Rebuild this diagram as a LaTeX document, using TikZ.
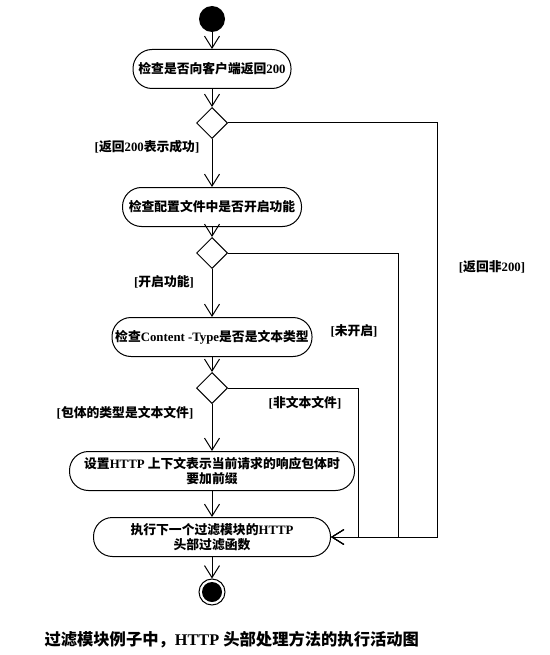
\documentclass[tikz,border=0pt]{standalone}
\usepackage{fontspec}
\setmainfont{Liberation Serif}
\newfontfamily\cjk{Noto Sans CJK SC}
\usetikzlibrary{shapes.geometric,arrows.meta}
\newcommand{\zh}[1]{{\cjk #1}}

\begin{document}
\begin{tikzpicture}[x=1pt,y=-1pt,
  action/.style={draw,line width=1pt,rounded corners=19pt,minimum height=39pt,align=center,inner xsep=0pt,font=\bfseries\fontsize{12.8}{15.5}\selectfont},
  choice/.style={draw,line width=1pt,diamond,minimum width=31pt,minimum height=31pt,inner sep=0pt},
  flow/.style={line width=1pt,-{Straight Barb[length=12pt,width=15pt]}},
  guard/.style={font=\bfseries\fontsize{12.8}{15}\selectfont}]

\useasboundingbox (0,0) rectangle (549,655);

\node[circle,fill,minimum size=26pt,inner sep=0pt] (start) at (212,19) {};
\node[action,minimum width=158pt] (b1) at (212,69) {\zh{检查是否向客户端返回}200};
\node[choice] (d1) at (212,123) {};
\node[action,minimum width=179pt] (b2) at (212,207) {\zh{检查配置文件中是否开启功能}};
\node[choice] (d2) at (212,253) {};
\node[action,minimum width=200pt] (b3) at (212,337) {\zh{检查}Content -Type\zh{是否是文本类型}};
\node[choice] (d3) at (212,388) {};
\node[action,minimum width=285pt] (b4) at (212,471) {\zh{设置}HTTP \zh{上下文表示当前请求的响应包体时}\\\zh{要加前缀}};
\node[action,minimum width=237pt] (b5) at (212,537) {\zh{执行下一个过滤模块的}HTTP\\\zh{头部过滤函数}};
\node[circle,draw,line width=1pt,minimum size=26pt,inner sep=0pt] (stop) at (212,592) {};
\fill (stop.center) circle (10pt);

\coordinate (j1) at (437,537);
\coordinate (j2) at (398,537);
\coordinate (j3) at (358,537);

\draw[flow] (start) -- (b1);
\draw[flow] (b1) -- (d1);
\draw[flow] (d1) -- (b2);
\draw[flow] (b2) -- (d2);
\draw[flow] (d2) -- (b3);
\draw[flow] (b3) -- (d3);
\draw[flow] (d3) -- (b4);
\draw[flow] (b4) -- (b5);
\draw[flow] (b5) -- (stop);
\draw[flow] (d1.east) -| (j1) -- (b5.east);
\draw[flow] (d2.east) -| (j2) -- (b5.east);
\draw[flow] (d3.east) -| (j3) -- (b5.east);

\node[guard] (g1) at (147,147) {[\zh{返回}200\zh{表示成功}]};
\node[guard] (g2) at (164,282) {[\zh{开启功能}]};
\node[guard] (g3) at (125,413) {[\zh{包体的类型是文本文件}]};
\node[guard] (g4) at (305,403) {[\zh{非文本文件}]};
\node[guard] (g5) at (354,331) {[\zh{未开启}]};
\node[guard] (g6) at (492,267) {[\zh{返回非}200]};
\node[font=\bfseries\fontsize{16.3}{19}\selectfont,anchor=west] (caption) at (41,640) {\zh{过滤模块例子中，}HTTP \zh{头部处理方法的执行活动图}};

\end{tikzpicture}
\end{document}
